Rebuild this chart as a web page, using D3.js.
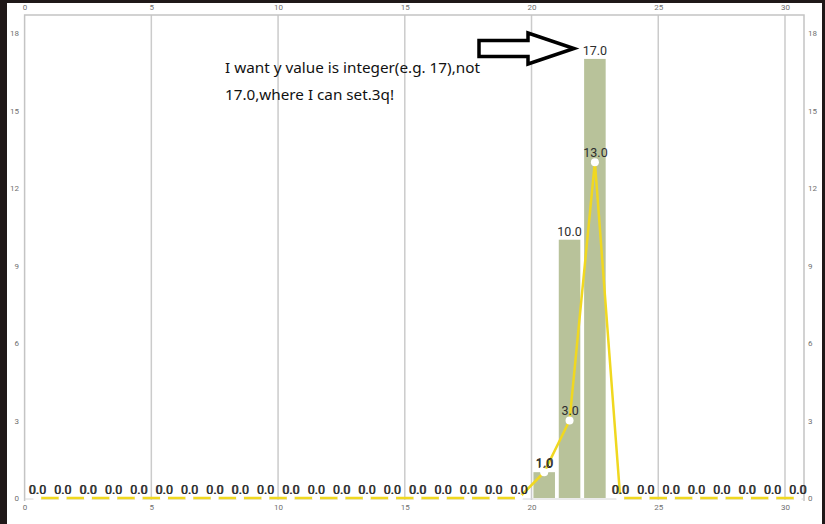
<!DOCTYPE html>
<html>
<head>
<meta charset="utf-8">
<script src="https://cdn.jsdelivr.net/npm/d3@7"></script>
<style>
    html, body { margin: 0; padding: 0; background: #fff; }
    svg { display: block; }
    .tick-label { font-family: Roboto, "DejaVu Sans", sans-serif; font-size: 8px; fill: #6f6f6f; }
    .value-label { font-family: Roboto, "DejaVu Sans", sans-serif; font-size: 12.5px; fill: #2e2e2e; }
    .note { font-family: "Noto Sans", "Open Sans", sans-serif; font-size: 15px; fill: #111; }
</style>
</head>
<body>
<div id="chart"></div>
<script>
// ------------------------------------------
//  Data
// ------------------------------------------
const categories = [0, 1, 2, 3, 4, 5, 6, 7, 8, 9, 10, 11, 12, 13, 14, 15,
    16, 17, 18, 19, 20, 21, 22, 23, 24, 25, 26, 27, 28, 29, 30]
const barValues = [0, 0, 0, 0, 0, 0, 0, 0, 0, 0, 0, 0, 0, 0, 0, 0,
    0, 0, 0, 0, 1, 10, 17, 0, 0, 0, 0, 0, 0, 0, 0]
const lineValues = [0, 0, 0, 0, 0, 0, 0, 0, 0, 0, 0, 0, 0, 0, 0, 0,
    0, 0, 0, 0, 1, 3, 13, 0, 0, 0, 0, 0, 0, 0, 0]
const xTicks = [0, 5, 10, 15, 20, 25, 30]
const yTicks = [0, 3, 6, 9, 12, 15, 18]
const noteLines = ["I want y value is integer(e.g. 17),not", "17.0,where I can set.3q!"]

// ------------------------------------------
//  Chart
// ------------------------------------------
function drawChart() {
    const W = 825, H = 524
    const plot = { left: 24.6, right: 804, top: 15, bottom: 498 }
    const fmt = d3.format(".1f")

    const svg = d3.select("#chart").append("svg").attr("width", W).attr("height", H)

    // dark window edges around the screenshot
    svg.append("rect").attr("x", 0).attr("y", 0).attr("width", 7).attr("height", H).attr("fill", "#1f1818")
    svg.append("rect").attr("x", 0).attr("y", 0).attr("width", W).attr("height", 3).attr("fill", "#1f1818")
    svg.append("rect").attr("x", 822).attr("y", 0).attr("width", 3).attr("height", H).attr("fill", "#1f1818")

    const x = d3.scaleLinear().domain([0, 30.75]).range([plot.left, plot.right])
    const y = d3.scaleLinear().domain([0, 18.7]).range([plot.bottom, plot.top])
    const cx = i => x(i + 0.5)
    const barW = x(0.85) - x(0)

    // vertical grid
    svg.append("g").selectAll("line")
        .data(xTicks.filter(t => t > 0))
        .join("line")
        .attr("x1", d => x(d)).attr("x2", d => x(d))
        .attr("y1", plot.top).attr("y2", plot.bottom + 2)
        .attr("stroke", "#cbcbcb").attr("stroke-width", 1.5)

    // frame
    svg.append("path")
        .attr("d", `M${plot.left},${plot.bottom + 3}V${plot.top}H${plot.right}V${plot.bottom + 3}`)
        .attr("fill", "none").attr("stroke", "#c4c4c4").attr("stroke-width", 1.5)
    svg.append("line")
        .attr("x1", plot.left).attr("x2", plot.right)
        .attr("y1", plot.bottom + 1).attr("y2", plot.bottom + 1)
        .attr("stroke", "#d6d6d6").attr("stroke-width", 1)

    // x axes, top and bottom (labels only)
    const xTop = svg.append("g").attr("transform", `translate(0,10)`)
        .call(d3.axisTop(x).tickValues(xTicks).tickSize(0).tickPadding(0))
    const xBottom = svg.append("g").attr("transform", `translate(0,504)`)
        .call(d3.axisBottom(x).tickValues(xTicks).tickSize(0).tickPadding(0))
    // y axes, left and right
    const yLeft = svg.append("g").attr("transform", `translate(19,0)`)
        .call(d3.axisLeft(y).tickValues(yTicks).tickSize(0).tickPadding(0))
    const yRight = svg.append("g").attr("transform", `translate(808,0)`)
        .call(d3.axisRight(y).tickValues(yTicks).tickSize(0).tickPadding(0))
    for (const ax of [xTop, xBottom, yLeft, yRight]) {
        ax.select(".domain").remove()
        ax.selectAll("text").attr("class", "tick-label").attr("font-size", null).attr("font-family", null)
    }

    // bars
    svg.append("g").selectAll("rect")
        .data(categories)
        .join("rect")
        .attr("x", i => cx(i) - barW / 2)
        .attr("width", barW)
        .attr("y", i => y(barValues[i]))
        .attr("height", i => y(0) - y(barValues[i]))
        .attr("fill", "#b8c29a")

    // line
    const line = d3.line().x(i => cx(i)).y(i => y(lineValues[i]))
    svg.append("path")
        .datum(categories)
        .attr("d", line)
        .attr("fill", "none")
        .attr("stroke", "#f0d820")
        .attr("stroke-width", 2.5)

    svg.append("g").selectAll("circle")
        .data(categories)
        .join("circle")
        .attr("cx", i => cx(i))
        .attr("cy", i => y(lineValues[i]))
        .attr("r", 4)
        .attr("fill", "#fff")

    // value labels
    svg.append("g").selectAll("text")
        .data(categories)
        .join("text")
        .attr("class", "value-label")
        .attr("text-anchor", "middle")
        .attr("x", i => cx(i))
        .attr("y", i => y(barValues[i]) - 4)
        .text(i => fmt(barValues[i]))

    svg.append("g").selectAll("text")
        .data(categories)
        .join("text")
        .attr("class", "value-label")
        .attr("text-anchor", "middle")
        .attr("x", i => cx(i) + 0.6)
        .attr("y", i => y(lineValues[i]) - (lineValues[i] > 0 ? 5.5 : 4))
        .text(i => fmt(lineValues[i]))

    // annotation
    const note = svg.append("g")
    note.selectAll("text")
        .data(noteLines)
        .join("text")
        .attr("class", "note")
        .attr("x", 225)
        .attr("y", (d, i) => 73 + i * 27)
        .attr("textLength", (d, i) => i === 0 ? 255 : 169)
        .attr("lengthAdjust", "spacingAndGlyphs")
        .text(d => d)

    note.append("path")
        .attr("d", "M479,40.5H528V33L574,48.5L528,64V56.5H479Z")
        .attr("fill", "#fff")
        .attr("stroke", "#000")
        .attr("stroke-width", 3.5)
        .attr("stroke-linejoin", "miter")
}

drawChart()
</script>
</body>
</html>
